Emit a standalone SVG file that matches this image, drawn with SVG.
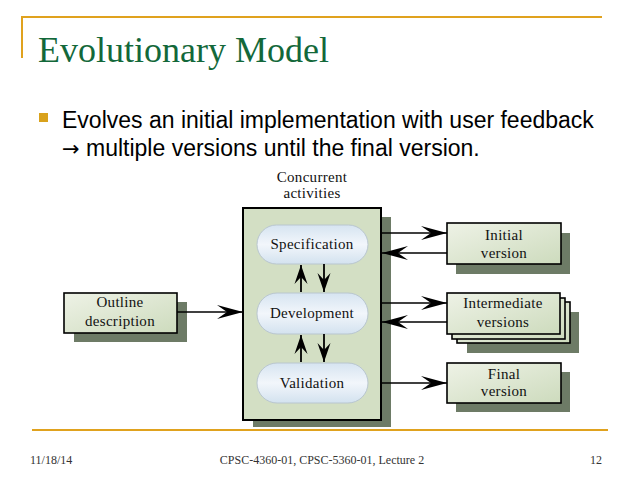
<svg xmlns="http://www.w3.org/2000/svg" width="638" height="478" viewBox="0 0 638 478">
<defs>
<linearGradient id="gbox" x1="0" y1="0" x2="1" y2="1"><stop offset="0" stop-color="#eef2e6"/><stop offset="1" stop-color="#cddbbd"/></linearGradient>
<linearGradient id="gpill" x1="0" y1="0" x2="0" y2="1"><stop offset="0" stop-color="#d6e4f1"/><stop offset="0.5" stop-color="#f2f6fb"/><stop offset="1" stop-color="#d3e2ef"/></linearGradient>
<marker id="ah" viewBox="-27 -8 28 16" refX="0" refY="0" markerWidth="28" markerHeight="16" markerUnits="userSpaceOnUse" orient="auto"><path d="M0,0 L-26,-7 L-16,0 L-26,7 Z" fill="#000"/></marker>
<marker id="av" viewBox="-20 -7 21 14" refX="0" refY="0" markerWidth="21" markerHeight="14" markerUnits="userSpaceOnUse" orient="auto"><path d="M0,0 L-19,-6.5 L-12,0 L-19,6.5 Z" fill="#000"/></marker>
</defs>
<style>
.sh{fill:#6d7b66}
.bx{fill:url(#gbox);stroke:#000;stroke-width:1.6}
.pill{fill:url(#gpill);stroke:#b9c6cf;stroke-width:1}
.t{font-family:"Liberation Serif","Times New Roman",serif;font-size:15px;fill:#111;text-anchor:middle;letter-spacing:0.3px}
.ln{stroke:#000;stroke-width:1.6;fill:none;marker-end:url(#ah)}
.lv{stroke:#000;stroke-width:1.8;fill:none;marker-end:url(#av)}
.or{stroke:#e0a21e;stroke-width:2;fill:none}
.ft{font-family:"Liberation Serif","Times New Roman",serif;font-size:12px;fill:#333}
</style>
<rect width="638" height="478" fill="#fff"/>
<path class="or" d="M22,58 V17 H602"/>
<line class="or" x1="32" y1="430" x2="608" y2="430" stroke-width="1.6"/>
<text x="38" y="62" font-family="Liberation Serif,Times New Roman,serif" font-size="36" fill="#13683a">Evolutionary Model</text>
<rect x="39" y="113" width="9" height="9" fill="#d9a21c"/>
<text font-family="Liberation Sans,Arial,sans-serif" font-size="23" fill="#000"><tspan x="62" y="128">Evolves an initial implementation with user feedback</tspan><tspan x="62" y="156"><tspan font-family="DejaVu Sans,sans-serif" font-size="21">→</tspan> multiple versions until the final version.</tspan></text>

<g id="outline">
<rect class="sh" x="74" y="302" width="113" height="40"/>
<rect class="bx" x="64" y="293" width="113" height="40"/>
<text class="t" x="120" y="307">Outline</text>
<text class="t" x="120" y="326">description</text>
</g>

<g id="concurrent">
<text class="t" x="312" y="182">Concurrent</text>
<text class="t" x="312" y="198">activities</text>
<rect class="sh" x="253" y="217" width="138" height="210"/>
<rect x="243" y="208" width="138" height="212" fill="#d3dfc4" stroke="#000" stroke-width="2"/>
</g>
<g id="spec"><rect class="pill" x="257" y="225" width="111" height="39" rx="19.5"/><text class="t" x="312" y="249">Specification</text></g>
<g id="dev"><rect class="pill" x="257" y="293" width="111" height="41" rx="20"/><text class="t" x="312" y="318">Development</text></g>
<g id="val"><rect class="pill" x="257" y="363" width="111" height="40" rx="20"/><text class="t" x="312" y="388">Validation</text></g>

<g id="initial">
<rect class="sh" x="456" y="233" width="114" height="41"/>
<rect class="bx" x="447" y="223" width="114" height="41"/>
<text class="t" x="504" y="240">Initial</text>
<text class="t" x="504" y="258">version</text>
</g>
<g id="intermediate">
<rect class="sh" x="467" y="312" width="112" height="41"/>
<rect class="bx" x="457" y="302" width="113" height="41"/>
<rect class="bx" x="452" y="298" width="113" height="41"/>
<rect class="bx" x="447" y="293" width="113" height="41"/>
<text class="t" x="503" y="308">Intermediate</text>
<text class="t" x="503" y="327">versions</text>
</g>
<g id="final">
<rect class="sh" x="456" y="372" width="114" height="40"/>
<rect class="bx" x="447" y="363" width="114" height="40"/>
<text class="t" x="504" y="379">Final</text>
<text class="t" x="504" y="396">version</text>
</g>

<g id="connectors">
<line class="ln" x1="177" y1="312" x2="243" y2="312"/>
<line class="ln" x1="381" y1="233" x2="447" y2="233"/>
<line class="ln" x1="447" y1="253" x2="382" y2="253"/>
<line class="ln" x1="381" y1="303" x2="447" y2="303"/>
<line class="ln" x1="447" y1="322" x2="382" y2="322"/>
<line class="ln" x1="381" y1="383" x2="447" y2="383"/>
<line class="lv" x1="301" y1="292" x2="301" y2="265"/>
<line class="lv" x1="324" y1="264" x2="324" y2="292"/>
<line class="lv" x1="301" y1="362" x2="301" y2="335"/>
<line class="lv" x1="324" y1="334" x2="324" y2="362"/>
</g>

<text class="ft" x="30" y="464">11/18/14</text>
<text class="ft" x="322" y="464" text-anchor="middle">CPSC-4360-01, CPSC-5360-01, Lecture 2</text>
<text class="ft" x="602" y="464" text-anchor="end">12</text>
</svg>
